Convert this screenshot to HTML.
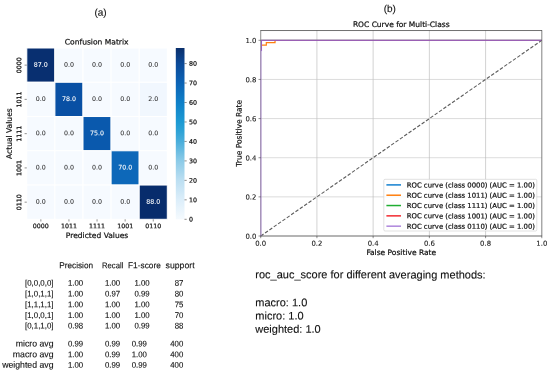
<!DOCTYPE html>
<html lang="en">
<head>
<meta charset="utf-8">
<title>Confusion Matrix and ROC Curve</title>
<style>
html,body{margin:0;padding:0;background:#fff;}
body{width:550px;height:373px;overflow:hidden;position:relative;}
svg{display:block;position:absolute;left:0;top:0;}
.dv{font-family:'DejaVu Sans', 'Liberation Sans', sans-serif;fill:#111;stroke:#111;stroke-width:0.22px;}
.dt{font-family:'DejaVu Sans', 'Liberation Sans', sans-serif;fill:#111;stroke:#111;stroke-width:0.08px;}
.dw{font-family:'DejaVu Sans', 'Liberation Sans', sans-serif;fill:#fff;stroke:#fff;stroke-width:0.08px;}
.da{font-family:'DejaVu Sans', 'Liberation Sans', sans-serif;fill:#2a2a2a;stroke:#2a2a2a;stroke-width:0.05px;}
.ls{font-family:'Liberation Sans', sans-serif;fill:#111;stroke:#111;stroke-width:0.12px;}
</style>
</head>
<body>
<svg width="550" height="373" viewBox="0 0 550 373">
<rect width="550" height="373" fill="#ffffff"/>
<text class="ls" transform="translate(100.50,15.80) rotate(0.03)" font-size="10" text-anchor="middle">(a)</text>
<text class="ls" transform="translate(389.80,12.00) rotate(0.03)" font-size="10" text-anchor="middle">(b)</text>
<g id="heatmap">
<rect x="26.80" y="48.00" width="28.10" height="34.26" fill="#082f70" stroke="#ffffff" stroke-width="1.0"/>
<rect x="54.90" y="48.00" width="28.10" height="34.26" fill="#f6faff" stroke="#ffffff" stroke-width="1.0"/>
<rect x="83.00" y="48.00" width="28.10" height="34.26" fill="#f6faff" stroke="#ffffff" stroke-width="1.0"/>
<rect x="111.10" y="48.00" width="28.10" height="34.26" fill="#f6faff" stroke="#ffffff" stroke-width="1.0"/>
<rect x="139.20" y="48.00" width="28.10" height="34.26" fill="#f6faff" stroke="#ffffff" stroke-width="1.0"/>
<rect x="26.80" y="82.26" width="28.10" height="34.26" fill="#f6faff" stroke="#ffffff" stroke-width="1.0"/>
<rect x="54.90" y="82.26" width="28.10" height="34.26" fill="#0950a4" stroke="#ffffff" stroke-width="1.0"/>
<rect x="83.00" y="82.26" width="28.10" height="34.26" fill="#f6faff" stroke="#ffffff" stroke-width="1.0"/>
<rect x="111.10" y="82.26" width="28.10" height="34.26" fill="#f6faff" stroke="#ffffff" stroke-width="1.0"/>
<rect x="139.20" y="82.26" width="28.10" height="34.26" fill="#f1f7fe" stroke="#ffffff" stroke-width="1.0"/>
<rect x="26.80" y="116.52" width="28.10" height="34.26" fill="#f6faff" stroke="#ffffff" stroke-width="1.0"/>
<rect x="54.90" y="116.52" width="28.10" height="34.26" fill="#f6faff" stroke="#ffffff" stroke-width="1.0"/>
<rect x="83.00" y="116.52" width="28.10" height="34.26" fill="#0a59ad" stroke="#ffffff" stroke-width="1.0"/>
<rect x="111.10" y="116.52" width="28.10" height="34.26" fill="#f6faff" stroke="#ffffff" stroke-width="1.0"/>
<rect x="139.20" y="116.52" width="28.10" height="34.26" fill="#f6faff" stroke="#ffffff" stroke-width="1.0"/>
<rect x="26.80" y="150.78" width="28.10" height="34.26" fill="#f6faff" stroke="#ffffff" stroke-width="1.0"/>
<rect x="54.90" y="150.78" width="28.10" height="34.26" fill="#f6faff" stroke="#ffffff" stroke-width="1.0"/>
<rect x="83.00" y="150.78" width="28.10" height="34.26" fill="#f6faff" stroke="#ffffff" stroke-width="1.0"/>
<rect x="111.10" y="150.78" width="28.10" height="34.26" fill="#0d68b9" stroke="#ffffff" stroke-width="1.0"/>
<rect x="139.20" y="150.78" width="28.10" height="34.26" fill="#f6faff" stroke="#ffffff" stroke-width="1.0"/>
<rect x="26.80" y="185.04" width="28.10" height="34.26" fill="#f6faff" stroke="#ffffff" stroke-width="1.0"/>
<rect x="54.90" y="185.04" width="28.10" height="34.26" fill="#f6faff" stroke="#ffffff" stroke-width="1.0"/>
<rect x="83.00" y="185.04" width="28.10" height="34.26" fill="#f6faff" stroke="#ffffff" stroke-width="1.0"/>
<rect x="111.10" y="185.04" width="28.10" height="34.26" fill="#f6faff" stroke="#ffffff" stroke-width="1.0"/>
<rect x="139.20" y="185.04" width="28.10" height="34.26" fill="#072c6c" stroke="#ffffff" stroke-width="1.0"/>
<text class="dw" transform="translate(40.85,66.83) rotate(0.03)" font-size="6.3" text-anchor="middle">87.0</text>
<text class="da" transform="translate(68.95,66.83) rotate(0.03)" font-size="6.3" text-anchor="middle">0.0</text>
<text class="da" transform="translate(97.05,66.83) rotate(0.03)" font-size="6.3" text-anchor="middle">0.0</text>
<text class="da" transform="translate(125.15,66.83) rotate(0.03)" font-size="6.3" text-anchor="middle">0.0</text>
<text class="da" transform="translate(153.25,66.83) rotate(0.03)" font-size="6.3" text-anchor="middle">0.0</text>
<text class="da" transform="translate(40.85,101.09) rotate(0.03)" font-size="6.3" text-anchor="middle">0.0</text>
<text class="dw" transform="translate(68.95,101.09) rotate(0.03)" font-size="6.3" text-anchor="middle">78.0</text>
<text class="da" transform="translate(97.05,101.09) rotate(0.03)" font-size="6.3" text-anchor="middle">0.0</text>
<text class="da" transform="translate(125.15,101.09) rotate(0.03)" font-size="6.3" text-anchor="middle">0.0</text>
<text class="da" transform="translate(153.25,101.09) rotate(0.03)" font-size="6.3" text-anchor="middle">2.0</text>
<text class="da" transform="translate(40.85,135.35) rotate(0.03)" font-size="6.3" text-anchor="middle">0.0</text>
<text class="da" transform="translate(68.95,135.35) rotate(0.03)" font-size="6.3" text-anchor="middle">0.0</text>
<text class="dw" transform="translate(97.05,135.35) rotate(0.03)" font-size="6.3" text-anchor="middle">75.0</text>
<text class="da" transform="translate(125.15,135.35) rotate(0.03)" font-size="6.3" text-anchor="middle">0.0</text>
<text class="da" transform="translate(153.25,135.35) rotate(0.03)" font-size="6.3" text-anchor="middle">0.0</text>
<text class="da" transform="translate(40.85,169.61) rotate(0.03)" font-size="6.3" text-anchor="middle">0.0</text>
<text class="da" transform="translate(68.95,169.61) rotate(0.03)" font-size="6.3" text-anchor="middle">0.0</text>
<text class="da" transform="translate(97.05,169.61) rotate(0.03)" font-size="6.3" text-anchor="middle">0.0</text>
<text class="dw" transform="translate(125.15,169.61) rotate(0.03)" font-size="6.3" text-anchor="middle">70.0</text>
<text class="da" transform="translate(153.25,169.61) rotate(0.03)" font-size="6.3" text-anchor="middle">0.0</text>
<text class="da" transform="translate(40.85,203.77) rotate(0.03)" font-size="6.3" text-anchor="middle">0.0</text>
<text class="da" transform="translate(68.95,203.77) rotate(0.03)" font-size="6.3" text-anchor="middle">0.0</text>
<text class="da" transform="translate(97.05,203.77) rotate(0.03)" font-size="6.3" text-anchor="middle">0.0</text>
<text class="da" transform="translate(125.15,203.77) rotate(0.03)" font-size="6.3" text-anchor="middle">0.0</text>
<text class="dw" transform="translate(153.25,203.77) rotate(0.03)" font-size="6.3" text-anchor="middle">88.0</text>
<line x1="40.85" y1="219.3" x2="40.85" y2="221.5" stroke="#222" stroke-width="0.5"/>
<text class="dv" transform="translate(40.85,228.30) rotate(0.03)" font-size="6.3" text-anchor="middle">0000</text>
<line x1="24.6" y1="65.13" x2="26.8" y2="65.13" stroke="#222" stroke-width="0.5"/>
<text class="dv" transform="translate(21.30,65.13) rotate(-89.97)" font-size="6.3" text-anchor="middle">0000</text>
<line x1="68.95" y1="219.3" x2="68.95" y2="221.5" stroke="#222" stroke-width="0.5"/>
<text class="dv" transform="translate(68.95,228.30) rotate(0.03)" font-size="6.3" text-anchor="middle">1011</text>
<line x1="24.6" y1="99.39" x2="26.8" y2="99.39" stroke="#222" stroke-width="0.5"/>
<text class="dv" transform="translate(21.30,99.39) rotate(-89.97)" font-size="6.3" text-anchor="middle">1011</text>
<line x1="97.05" y1="219.3" x2="97.05" y2="221.5" stroke="#222" stroke-width="0.5"/>
<text class="dv" transform="translate(97.05,228.30) rotate(0.03)" font-size="6.3" text-anchor="middle">1111</text>
<line x1="24.6" y1="133.65" x2="26.8" y2="133.65" stroke="#222" stroke-width="0.5"/>
<text class="dv" transform="translate(21.30,133.65) rotate(-89.97)" font-size="6.3" text-anchor="middle">1111</text>
<line x1="125.15" y1="219.3" x2="125.15" y2="221.5" stroke="#222" stroke-width="0.5"/>
<text class="dv" transform="translate(125.15,228.30) rotate(0.03)" font-size="6.3" text-anchor="middle">1001</text>
<line x1="24.6" y1="167.91" x2="26.8" y2="167.91" stroke="#222" stroke-width="0.5"/>
<text class="dv" transform="translate(21.30,167.91) rotate(-89.97)" font-size="6.3" text-anchor="middle">1001</text>
<line x1="153.25" y1="219.3" x2="153.25" y2="221.5" stroke="#222" stroke-width="0.5"/>
<text class="dv" transform="translate(153.25,228.30) rotate(0.03)" font-size="6.3" text-anchor="middle">0110</text>
<line x1="24.6" y1="202.17" x2="26.8" y2="202.17" stroke="#222" stroke-width="0.5"/>
<text class="dv" transform="translate(21.30,202.17) rotate(-89.97)" font-size="6.3" text-anchor="middle">0110</text>
<text class="dv" transform="translate(96.65,44.60) rotate(0.03)" font-size="7.55" text-anchor="middle">Confusion Matrix</text>
<text class="dv" transform="translate(97.05,238.00) rotate(0.03)" font-size="7.55" text-anchor="middle">Predicted Values</text>
<text class="dv" transform="translate(11.80,133.65) rotate(-89.97)" font-size="7.55" text-anchor="middle">Actual Values</text>
</g>
<defs><linearGradient id="blues" x1="0" y1="1" x2="0" y2="0">
<stop offset="0.0000" stop-color="#f5fafe"/>
<stop offset="0.1136" stop-color="#dceefa"/>
<stop offset="0.2273" stop-color="#bcdff2"/>
<stop offset="0.3409" stop-color="#8ccbe8"/>
<stop offset="0.4545" stop-color="#4aaedb"/>
<stop offset="0.5114" stop-color="#2fa3d6"/>
<stop offset="0.5682" stop-color="#1d9ad3"/>
<stop offset="0.6818" stop-color="#0f80c8"/>
<stop offset="0.7955" stop-color="#0c63b5"/>
<stop offset="0.9091" stop-color="#0c4a98"/>
<stop offset="1.0000" stop-color="#0a2f6b"/>
</linearGradient></defs>
<rect x="175.8" y="48.0" width="8.70" height="171.30" fill="url(#blues)"/>
<line x1="184.5" y1="219.30" x2="186.7" y2="219.30" stroke="#222" stroke-width="0.5"/>
<text class="dv" transform="translate(189.00,221.60) rotate(0.03)" font-size="6.3">0</text>
<line x1="184.5" y1="199.83" x2="186.7" y2="199.83" stroke="#222" stroke-width="0.5"/>
<text class="dv" transform="translate(189.00,202.13) rotate(0.03)" font-size="6.3">10</text>
<line x1="184.5" y1="180.37" x2="186.7" y2="180.37" stroke="#222" stroke-width="0.5"/>
<text class="dv" transform="translate(189.00,182.67) rotate(0.03)" font-size="6.3">20</text>
<line x1="184.5" y1="160.90" x2="186.7" y2="160.90" stroke="#222" stroke-width="0.5"/>
<text class="dv" transform="translate(189.00,163.20) rotate(0.03)" font-size="6.3">30</text>
<line x1="184.5" y1="141.44" x2="186.7" y2="141.44" stroke="#222" stroke-width="0.5"/>
<text class="dv" transform="translate(189.00,143.74) rotate(0.03)" font-size="6.3">40</text>
<line x1="184.5" y1="121.97" x2="186.7" y2="121.97" stroke="#222" stroke-width="0.5"/>
<text class="dv" transform="translate(189.00,124.27) rotate(0.03)" font-size="6.3">50</text>
<line x1="184.5" y1="102.50" x2="186.7" y2="102.50" stroke="#222" stroke-width="0.5"/>
<text class="dv" transform="translate(189.00,104.80) rotate(0.03)" font-size="6.3">60</text>
<line x1="184.5" y1="83.04" x2="186.7" y2="83.04" stroke="#222" stroke-width="0.5"/>
<text class="dv" transform="translate(189.00,85.34) rotate(0.03)" font-size="6.3">70</text>
<line x1="184.5" y1="63.57" x2="186.7" y2="63.57" stroke="#222" stroke-width="0.5"/>
<text class="dv" transform="translate(189.00,65.87) rotate(0.03)" font-size="6.3">80</text>
<g id="roc">
<line x1="260.70" y1="30.52" x2="260.70" y2="236.0" stroke="#b6b6b6" stroke-width="0.6"/>
<line x1="260.7" y1="236.00" x2="541.8" y2="236.00" stroke="#c4c4c4" stroke-width="0.6"/>
<line x1="316.92" y1="30.52" x2="316.92" y2="236.0" stroke="#b6b6b6" stroke-width="0.6"/>
<line x1="260.7" y1="196.86" x2="541.8" y2="196.86" stroke="#c4c4c4" stroke-width="0.6"/>
<line x1="373.14" y1="30.52" x2="373.14" y2="236.0" stroke="#b6b6b6" stroke-width="0.6"/>
<line x1="260.7" y1="157.72" x2="541.8" y2="157.72" stroke="#c4c4c4" stroke-width="0.6"/>
<line x1="429.36" y1="30.52" x2="429.36" y2="236.0" stroke="#b6b6b6" stroke-width="0.6"/>
<line x1="260.7" y1="118.58" x2="541.8" y2="118.58" stroke="#c4c4c4" stroke-width="0.6"/>
<line x1="485.58" y1="30.52" x2="485.58" y2="236.0" stroke="#b6b6b6" stroke-width="0.6"/>
<line x1="260.7" y1="79.44" x2="541.8" y2="79.44" stroke="#c4c4c4" stroke-width="0.6"/>
<line x1="541.80" y1="30.52" x2="541.80" y2="236.0" stroke="#b6b6b6" stroke-width="0.6"/>
<line x1="260.7" y1="40.30" x2="541.8" y2="40.30" stroke="#c4c4c4" stroke-width="0.6"/>
<line x1="260.70" y1="236.00" x2="541.80" y2="40.30" stroke="#5c5c5c" stroke-width="1.1" stroke-dasharray="3.5,1.8"/>
<clipPath id="axclip"><rect x="260.7" y="30.52" width="281.10" height="205.48"/></clipPath>
<g clip-path="url(#axclip)">
<polyline points="260.70,40.30 541.80,40.30" fill="none" stroke="#1f77b4" stroke-width="0.5" stroke-linejoin="miter"/>
<polyline points="261.12,45.19 266.32,45.19 266.32,42.65 275.04,42.65 275.04,40.69" fill="none" stroke="#ff7f0e" stroke-width="1.2" stroke-linejoin="miter"/>
<polyline points="260.70,40.30 541.80,40.30" fill="none" stroke="#2ca02c" stroke-width="0.5" stroke-linejoin="miter"/>
<polyline points="260.70,40.30 541.80,40.30" fill="none" stroke="#d62728" stroke-width="0.5" stroke-linejoin="miter"/>
<polyline points="261.54,51.06 261.54,40.30 541.80,40.30" fill="none" stroke="#9c5ac8" stroke-width="1.0" stroke-linejoin="miter"/>
</g>
<line x1="260.7" y1="30.52" x2="260.7" y2="236.0" stroke="#6e6e6e" stroke-width="0.6"/>
<line x1="541.8" y1="30.52" x2="541.8" y2="236.0" stroke="#5a5a5a" stroke-width="0.6"/>
<line x1="260.4" y1="30.52" x2="542.0999999999999" y2="30.52" stroke="#333333" stroke-width="0.7"/>
<line x1="260.4" y1="236.0" x2="542.0999999999999" y2="236.0" stroke="#4a4a4a" stroke-width="0.7"/>
<line x1="260.95" y1="236.00" x2="260.95" y2="50.09" stroke="#a67fd0" stroke-opacity="0.6" stroke-width="1.4"/>
<line x1="260.70" y1="236.0" x2="260.70" y2="238.2" stroke="#222" stroke-width="0.5"/>
<text class="dt" transform="translate(260.70,245.70) rotate(0.03)" font-size="6.9" text-anchor="middle">0.0</text>
<line x1="258.5" y1="236.00" x2="260.7" y2="236.00" stroke="#222" stroke-width="0.5"/>
<text class="dt" transform="translate(256.40,238.70) rotate(0.03)" font-size="6.9" text-anchor="end">0.0</text>
<line x1="316.92" y1="236.0" x2="316.92" y2="238.2" stroke="#222" stroke-width="0.5"/>
<text class="dt" transform="translate(316.92,245.70) rotate(0.03)" font-size="6.9" text-anchor="middle">0.2</text>
<line x1="258.5" y1="196.86" x2="260.7" y2="196.86" stroke="#222" stroke-width="0.5"/>
<text class="dt" transform="translate(256.40,199.56) rotate(0.03)" font-size="6.9" text-anchor="end">0.2</text>
<line x1="373.14" y1="236.0" x2="373.14" y2="238.2" stroke="#222" stroke-width="0.5"/>
<text class="dt" transform="translate(373.14,245.70) rotate(0.03)" font-size="6.9" text-anchor="middle">0.4</text>
<line x1="258.5" y1="157.72" x2="260.7" y2="157.72" stroke="#222" stroke-width="0.5"/>
<text class="dt" transform="translate(256.40,160.42) rotate(0.03)" font-size="6.9" text-anchor="end">0.4</text>
<line x1="429.36" y1="236.0" x2="429.36" y2="238.2" stroke="#222" stroke-width="0.5"/>
<text class="dt" transform="translate(429.36,245.70) rotate(0.03)" font-size="6.9" text-anchor="middle">0.6</text>
<line x1="258.5" y1="118.58" x2="260.7" y2="118.58" stroke="#222" stroke-width="0.5"/>
<text class="dt" transform="translate(256.40,121.28) rotate(0.03)" font-size="6.9" text-anchor="end">0.6</text>
<line x1="485.58" y1="236.0" x2="485.58" y2="238.2" stroke="#222" stroke-width="0.5"/>
<text class="dt" transform="translate(485.58,245.70) rotate(0.03)" font-size="6.9" text-anchor="middle">0.8</text>
<line x1="258.5" y1="79.44" x2="260.7" y2="79.44" stroke="#222" stroke-width="0.5"/>
<text class="dt" transform="translate(256.40,82.14) rotate(0.03)" font-size="6.9" text-anchor="end">0.8</text>
<line x1="541.80" y1="236.0" x2="541.80" y2="238.2" stroke="#222" stroke-width="0.5"/>
<text class="dt" transform="translate(541.80,245.70) rotate(0.03)" font-size="6.9" text-anchor="middle">1.0</text>
<line x1="258.5" y1="40.30" x2="260.7" y2="40.30" stroke="#222" stroke-width="0.5"/>
<text class="dt" transform="translate(256.40,43.00) rotate(0.03)" font-size="6.9" text-anchor="end">1.0</text>
<text class="dv" transform="translate(401.25,26.90) rotate(0.03)" font-size="7.5" text-anchor="middle">ROC Curve for Multi-Class</text>
<text class="dv" transform="translate(401.25,255.00) rotate(0.03)" font-size="7.5" text-anchor="middle">False Positive Rate</text>
<text class="dv" transform="translate(241.40,133.26) rotate(-89.97)" font-size="7.5" text-anchor="middle">True Positive Rate</text>
<rect x="383.8" y="179.3" width="153.00" height="51.70" rx="1.2" fill="#ffffff" fill-opacity="0.8" stroke="#cccccc" stroke-width="0.6"/>
<line x1="386.4" y1="184.90" x2="401.0" y2="184.90" stroke="#1480d0" stroke-width="1.5"/>
<text class="dv" transform="translate(406.70,187.40) rotate(0.03)" font-size="6.89">ROC curve (class 0000) (AUC = 1.00)</text>
<line x1="386.4" y1="195.22" x2="401.0" y2="195.22" stroke="#ff7f0e" stroke-width="1.5"/>
<text class="dv" transform="translate(406.70,197.72) rotate(0.03)" font-size="6.89">ROC curve (class 1011) (AUC = 1.00)</text>
<line x1="386.4" y1="205.54" x2="401.0" y2="205.54" stroke="#20ae32" stroke-width="1.5"/>
<text class="dv" transform="translate(406.70,208.04) rotate(0.03)" font-size="6.89">ROC curve (class 1111) (AUC = 1.00)</text>
<line x1="386.4" y1="215.86" x2="401.0" y2="215.86" stroke="#f22a30" stroke-width="1.5"/>
<text class="dv" transform="translate(406.70,218.36) rotate(0.03)" font-size="6.89">ROC curve (class 1001) (AUC = 1.00)</text>
<line x1="386.4" y1="226.18" x2="401.0" y2="226.18" stroke="#ae86dc" stroke-width="1.5"/>
<text class="dv" transform="translate(406.70,228.68) rotate(0.03)" font-size="6.89">ROC curve (class 0110) (AUC = 1.00)</text>
</g>
<g id="report">
<text class="ls" transform="translate(59.20,268.20) rotate(0.03) scale(0.96,1)" font-size="8.6">Precision</text>
<text class="ls" transform="translate(102.00,268.20) rotate(0.03) scale(0.92,1)" font-size="8.4">Recall</text>
<text class="ls" transform="translate(128.00,268.20) rotate(0.03) scale(0.97,1)" font-size="8.6">F1-score</text>
<text class="ls" transform="translate(165.60,268.20) rotate(0.03)" font-size="8.7">support</text>
<text class="ls" transform="translate(53.50,285.80) rotate(0.03) scale(0.95,1)" font-size="8.3" text-anchor="end">[0,0,0,0]</text>
<text class="ls" transform="translate(68.00,285.80) rotate(0.03) scale(0.94,1)" font-size="8.3">1.00</text>
<text class="ls" transform="translate(105.00,285.80) rotate(0.03) scale(0.94,1)" font-size="8.3">1.00</text>
<text class="ls" transform="translate(134.40,285.80) rotate(0.03) scale(0.94,1)" font-size="8.3">1.00</text>
<text class="ls" transform="translate(183.30,285.80) rotate(0.03) scale(0.94,1)" font-size="8.3" text-anchor="end">87</text>
<text class="ls" transform="translate(53.50,296.50) rotate(0.03) scale(0.95,1)" font-size="8.3" text-anchor="end">[1,0,1,1]</text>
<text class="ls" transform="translate(68.00,296.50) rotate(0.03) scale(0.94,1)" font-size="8.3">1.00</text>
<text class="ls" transform="translate(105.00,296.50) rotate(0.03) scale(0.94,1)" font-size="8.3">0.97</text>
<text class="ls" transform="translate(134.40,296.50) rotate(0.03) scale(0.94,1)" font-size="8.3">0.99</text>
<text class="ls" transform="translate(183.30,296.50) rotate(0.03) scale(0.94,1)" font-size="8.3" text-anchor="end">80</text>
<text class="ls" transform="translate(53.50,307.20) rotate(0.03) scale(0.95,1)" font-size="8.3" text-anchor="end">[1,1,1,1]</text>
<text class="ls" transform="translate(68.00,307.20) rotate(0.03) scale(0.94,1)" font-size="8.3">1.00</text>
<text class="ls" transform="translate(105.00,307.20) rotate(0.03) scale(0.94,1)" font-size="8.3">1.00</text>
<text class="ls" transform="translate(134.40,307.20) rotate(0.03) scale(0.94,1)" font-size="8.3">1.00</text>
<text class="ls" transform="translate(183.30,307.20) rotate(0.03) scale(0.94,1)" font-size="8.3" text-anchor="end">75</text>
<text class="ls" transform="translate(53.50,317.90) rotate(0.03) scale(0.95,1)" font-size="8.3" text-anchor="end">[1,0,0,1]</text>
<text class="ls" transform="translate(68.00,317.90) rotate(0.03) scale(0.94,1)" font-size="8.3">1.00</text>
<text class="ls" transform="translate(105.00,317.90) rotate(0.03) scale(0.94,1)" font-size="8.3">1.00</text>
<text class="ls" transform="translate(134.40,317.90) rotate(0.03) scale(0.94,1)" font-size="8.3">1.00</text>
<text class="ls" transform="translate(183.30,317.90) rotate(0.03) scale(0.94,1)" font-size="8.3" text-anchor="end">70</text>
<text class="ls" transform="translate(53.50,328.60) rotate(0.03) scale(0.95,1)" font-size="8.3" text-anchor="end">[0,1,1,0]</text>
<text class="ls" transform="translate(68.00,328.60) rotate(0.03) scale(0.94,1)" font-size="8.3">0.98</text>
<text class="ls" transform="translate(105.00,328.60) rotate(0.03) scale(0.94,1)" font-size="8.3">1.00</text>
<text class="ls" transform="translate(134.40,328.60) rotate(0.03) scale(0.94,1)" font-size="8.3">0.99</text>
<text class="ls" transform="translate(183.30,328.60) rotate(0.03) scale(0.94,1)" font-size="8.3" text-anchor="end">88</text>
<text class="ls" transform="translate(53.50,346.50) rotate(0.03) scale(0.98,1)" font-size="8.9" text-anchor="end">micro avg</text>
<text class="ls" transform="translate(68.00,346.50) rotate(0.03) scale(0.94,1)" font-size="8.3">0.99</text>
<text class="ls" transform="translate(105.00,346.50) rotate(0.03) scale(0.94,1)" font-size="8.3">0.99</text>
<text class="ls" transform="translate(131.70,346.50) rotate(0.03) scale(0.94,1)" font-size="8.3">0.99</text>
<text class="ls" transform="translate(183.30,346.50) rotate(0.03) scale(0.94,1)" font-size="8.3" text-anchor="end">400</text>
<text class="ls" transform="translate(53.50,357.20) rotate(0.03) scale(0.98,1)" font-size="8.9" text-anchor="end">macro avg</text>
<text class="ls" transform="translate(68.00,357.20) rotate(0.03) scale(0.94,1)" font-size="8.3">1.00</text>
<text class="ls" transform="translate(105.00,357.20) rotate(0.03) scale(0.94,1)" font-size="8.3">0.99</text>
<text class="ls" transform="translate(131.70,357.20) rotate(0.03) scale(0.94,1)" font-size="8.3">1.00</text>
<text class="ls" transform="translate(183.30,357.20) rotate(0.03) scale(0.94,1)" font-size="8.3" text-anchor="end">400</text>
<text class="ls" transform="translate(53.50,367.70) rotate(0.03) scale(0.98,1)" font-size="8.9" text-anchor="end">weighted avg</text>
<text class="ls" transform="translate(68.00,367.70) rotate(0.03) scale(0.94,1)" font-size="8.3">1.00</text>
<text class="ls" transform="translate(105.00,367.70) rotate(0.03) scale(0.94,1)" font-size="8.3">0.99</text>
<text class="ls" transform="translate(131.70,367.70) rotate(0.03) scale(0.94,1)" font-size="8.3">0.99</text>
<text class="ls" transform="translate(183.30,367.70) rotate(0.03) scale(0.94,1)" font-size="8.3" text-anchor="end">400</text>
</g>
<g id="auc">
<text class="ls" transform="translate(255.30,278.30) rotate(0.03)" font-size="11">roc_auc_score for different averaging methods:</text>
<text class="ls" transform="translate(255.30,306.30) rotate(0.03)" font-size="11">macro: 1.0</text>
<text class="ls" transform="translate(255.30,319.60) rotate(0.03)" font-size="11">micro: 1.0</text>
<text class="ls" transform="translate(255.30,332.80) rotate(0.03)" font-size="11">weighted: 1.0</text>
</g>
</svg>
</body>
</html>
